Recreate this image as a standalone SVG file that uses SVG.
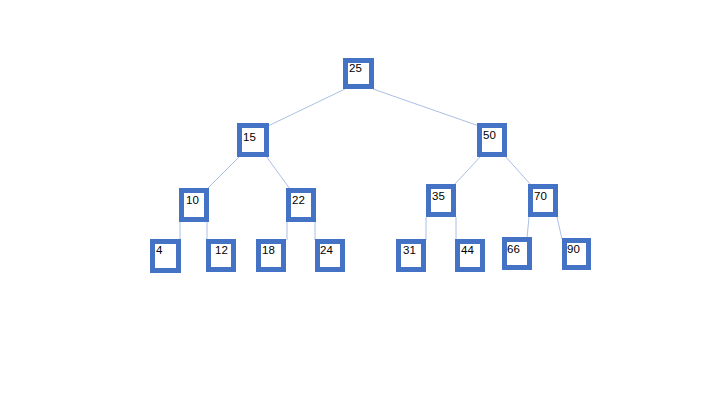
<svg xmlns="http://www.w3.org/2000/svg" width="720" height="405" viewBox="0 0 720 405">
<style>
.n rect{fill:#fff;stroke:#4472c4;stroke-width:5}
.n text{font-family:"Liberation Sans","Open Sans",sans-serif;font-size:11.5px;fill:#000}
#edges line{stroke:#8faadc;stroke-width:0.75}
</style>
<rect width="720" height="405" fill="#fff"/>
<g id="edges">
<line x1="345" y1="89" x2="268" y2="126"/>
<line x1="373" y1="89" x2="479" y2="126"/>
<line x1="240" y1="156" x2="207" y2="189"/>
<line x1="266" y1="156" x2="290" y2="189"/>
<line x1="481" y1="156" x2="454" y2="185"/>
<line x1="505" y1="156" x2="531" y2="185"/>
<line x1="180" y1="222" x2="180" y2="240"/>
<line x1="207" y1="222" x2="207" y2="240"/>
<line x1="287" y1="222" x2="287" y2="240"/>
<line x1="315" y1="222" x2="315" y2="240"/>
<line x1="426" y1="217" x2="426" y2="240"/>
<line x1="456" y1="217" x2="456" y2="240"/>
<line x1="529" y1="217" x2="527" y2="238"/>
<line x1="557" y1="217" x2="562" y2="239"/>
</g>
<g id="n25" class="n"><rect x="345.5" y="60.5" width="26" height="26"/><text x="349" y="72">25</text></g>
<g id="n15" class="n"><rect x="239.5" y="125.5" width="27" height="29"/><text x="243" y="141">15</text></g>
<g id="n50" class="n"><rect x="479.5" y="125.5" width="25" height="29"/><text x="483" y="139">50</text></g>
<g id="n10" class="n"><rect x="181.5" y="190.5" width="25" height="29"/><text x="186" y="204">10</text></g>
<g id="n22" class="n"><rect x="288.5" y="190.5" width="25" height="29"/><text x="292" y="204">22</text></g>
<g id="n35" class="n"><rect x="428.5" y="186.5" width="25" height="28"/><text x="432" y="200">35</text></g>
<g id="n70" class="n"><rect x="530.5" y="186.5" width="25" height="28"/><text x="534" y="200">70</text></g>
<g id="n4" class="n"><rect x="152.5" y="241.5" width="26" height="29"/><text x="156" y="254">4</text></g>
<g id="n12" class="n"><rect x="208.5" y="241.5" width="25" height="28"/><text x="215" y="254">12</text></g>
<g id="n18" class="n"><rect x="258.5" y="241.5" width="25" height="28"/><text x="262" y="254">18</text></g>
<g id="n24" class="n"><rect x="317.5" y="241.5" width="25" height="28"/><text x="320" y="254">24</text></g>
<g id="n31" class="n"><rect x="398.5" y="241.5" width="25" height="28"/><text x="403" y="254">31</text></g>
<g id="n44" class="n"><rect x="457.5" y="241.5" width="25" height="28"/><text x="461" y="254">44</text></g>
<g id="n66" class="n"><rect x="504.5" y="239.5" width="25" height="28"/><text x="507" y="253">66</text></g>
<g id="n90" class="n"><rect x="564.5" y="240.5" width="24" height="27"/><text x="567" y="253">90</text></g>
</svg>
